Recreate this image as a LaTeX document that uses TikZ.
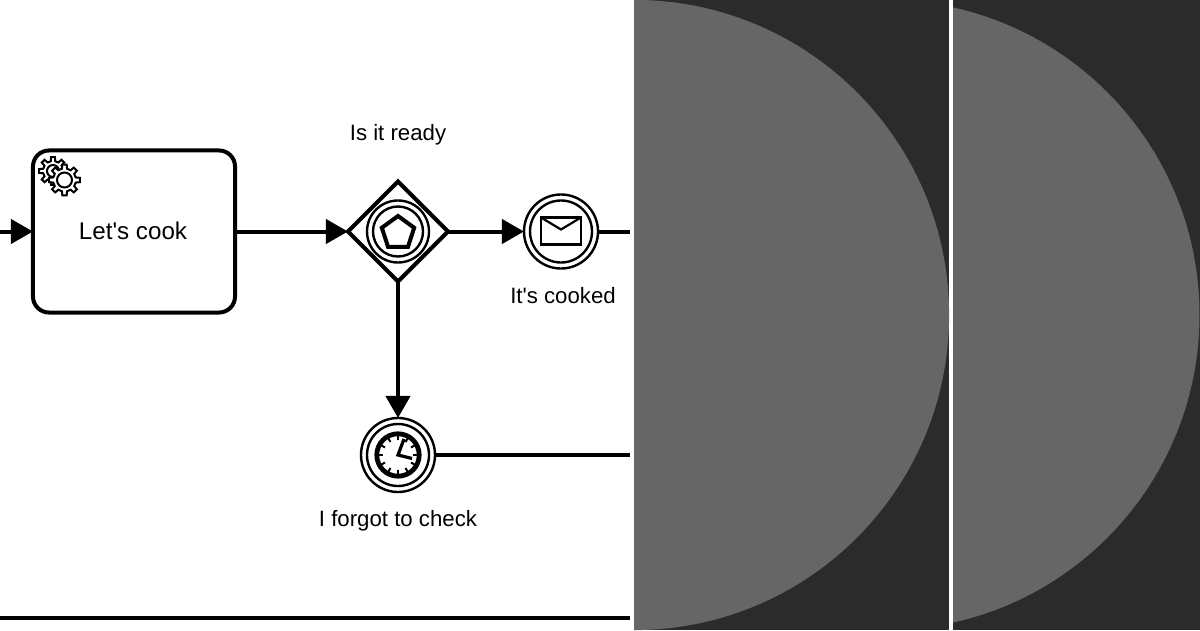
\documentclass[tikz,border=0pt]{standalone}
\usepackage{fontspec}
\setmainfont{Liberation Sans}
\usetikzlibrary{arrows.meta,shapes.geometric}
\definecolor{paneldark}{HTML}{2B2B2B}
\definecolor{panelgrey}{HTML}{666666}
\newcommand{\gearicon}[4]{
  \filldraw[fill=white,line width=.05cm,shift={(#1,#2)}] (-13:#3)
  \foreach \a in {0,45,...,315} {-- (\a-13:#3) -- (\a-8:#3+4) -- (\a+8:#3+4) -- (\a+13:#3)} -- cycle;
  \draw[line width=.05cm] (#1,#2) circle[radius=#4*.025cm];
}
\tikzset{
  flow/.style={line width=.1cm,-{Triangle[length=.55cm,width=.6cm]}},
  plainflow/.style={line width=.1cm},
  taskbox/.style={draw,line width=.1cm,rounded corners=.4cm,minimum width=5.05cm,minimum height=4.05cm,outer sep=0,inner sep=0,font=\fontsize{17.2}{20}\selectfont},
  gateway/.style={draw,diamond,line width=.1cm,minimum size=2.5cm,outer sep=0,inner sep=0},
  ring/.style={draw,circle,line width=.06cm,minimum size=1.85cm,outer sep=0,inner sep=0},
  lbl/.style={font=\fontsize{15.8}{18}\selectfont,inner sep=0}
}
\begin{document}
\begin{tikzpicture}[x=.025cm,y=-.025cm]
  \useasboundingbox (0,0) rectangle (1200,630);
  \fill[paneldark] (634,0) rectangle (949,630);
  \fill[paneldark] (953,0) rectangle (1200,630);
  \begin{scope}
    \clip (634,0) rectangle (949,630);
    \fill[panelgrey] (634,315) circle[radius=7.875cm];
  \end{scope}
  \begin{scope}
    \clip (953,0) rectangle (1200,630);
    \fill[panelgrey] (884.4,315) circle[radius=7.875cm];
  \end{scope}
  \node[taskbox] (cook) at (134,231.5) {\hspace{-.05cm}\raisebox{.025cm}{Let\textquotesingle s cook}};
  \node[gateway] (ready) at (398,231.5) {};
  \node[ring] (cooked) at (561,231.5) {};
  \node[ring] (forgot) at (398,455) {};
  \coordinate (entry) at (0,231.5);
  \coordinate (cookedend) at (630,231.5);
  \coordinate (forgotend) at (630,455);
  \coordinate (baseleft) at (0,618);
  \coordinate (baseright) at (630,618);
  \coordinate (pentagon) at (398,233);
  \node[lbl] (readylabel) at (398,135) {Is it ready};
  \node[lbl] (cookedlabel) at (563,296) {It\textquotesingle s cooked};
  \node[lbl] (forgotlabel) at (398,521) {I forgot to check};
  \draw[flow] (entry) -- (cook);
  \draw[flow] (cook) -- (ready);
  \draw[flow] (ready) -- (cooked);
  \draw[flow] (ready) -- (forgot);
  \draw[plainflow] (cooked) -- (cookedend);
  \draw[plainflow] (forgot) -- (forgotend);
  \draw[plainflow] (baseleft) -- (baseright);
  \gearicon{53}{171}{10}{6}
  \gearicon{64.5}{180}{11.5}{7.5}
  \draw[line width=.06cm] (ready) circle[radius=.775cm] (ready) circle[radius=.625cm];
  \draw[line width=.1cm,line join=miter] ([shift={(pentagon)}]-90:17) -- ([shift={(pentagon)}]-18:17)
    -- ([shift={(pentagon)}]54:17) -- ([shift={(pentagon)}]126:17) -- ([shift={(pentagon)}]198:17) -- cycle;
  \draw[line width=.06cm] (cooked) circle[radius=.775cm];
  \draw[line width=.055cm] (541,217.5) rectangle (581,244.5);
  \draw[line width=.055cm] (541,217.5) -- (561,229.5) -- (581,217.5);
  \draw[line width=.06cm] (forgot) circle[radius=.775cm];
  \draw[line width=.12cm] (forgot) circle[radius=.53cm];
  \foreach \a in {0,30,...,330}
    \draw[line width=.05cm] ([shift={(forgot)}]\a:15) -- ([shift={(forgot)}]\a:21);
  \draw[line width=.08cm] (404,439) -- (forgot.center) -- (412,458.5);
\end{tikzpicture}
\end{document}
